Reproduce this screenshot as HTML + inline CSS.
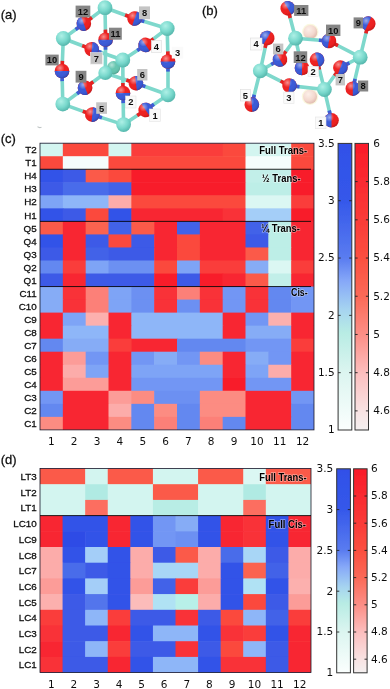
<!DOCTYPE html>
<html lang="en"><head><meta charset="utf-8"><title>Figure</title>
<style>html,body{margin:0;padding:0;background:#fff}body{width:390px;height:689px;overflow:hidden}svg{display:block}
.lab{font-family:"Liberation Sans",sans-serif;font-size:13px;fill:#111;stroke:#111;stroke-width:0.3px}
.row{font-family:"Liberation Sans",sans-serif;font-size:9.8px;fill:#111;text-anchor:end;stroke:#111;stroke-width:0.3px}
.tick{font-family:"DejaVu Sans","Liberation Sans",sans-serif;font-size:10.5px;fill:#111}
.ann{font-family:"Liberation Sans",sans-serif;font-size:10.8px;font-weight:bold;fill:#000;stroke:#fff;stroke-opacity:0.45;stroke-width:1.4px;paint-order:stroke}
.num{font-family:"Liberation Sans",sans-serif;font-size:9.4px;font-weight:bold;fill:#111;text-anchor:middle}
</style></head><body>
<svg width="390" height="689" viewBox="0 0 390 689">
<defs>
<radialGradient id="gt" cx="0.38" cy="0.32" r="0.75"><stop offset="0" stop-color="#aef0e6"/><stop offset="0.55" stop-color="#78d8cc"/><stop offset="1" stop-color="#4fb0a6"/></radialGradient>
<radialGradient id="gp" cx="0.38" cy="0.32" r="0.75"><stop offset="0" stop-color="#fcefe9"/><stop offset="0.6" stop-color="#f3d8ce"/><stop offset="1" stop-color="#dcb6aa"/></radialGradient>
<radialGradient id="gs" cx="0.36" cy="0.30" r="0.8"><stop offset="0" stop-color="#fff" stop-opacity="0.5"/><stop offset="0.4" stop-color="#fff" stop-opacity="0"/><stop offset="0.75" stop-color="#000" stop-opacity="0.04"/><stop offset="1" stop-color="#001" stop-opacity="0.3"/></radialGradient>
<linearGradient id="cb1" x1="0" y1="0" x2="0" y2="1">
<stop offset="0" stop-color="#3050e8"/>
<stop offset="0.2" stop-color="#3558ea"/>
<stop offset="0.4" stop-color="#5a7cf0"/>
<stop offset="0.48" stop-color="#86a8f8"/>
<stop offset="0.58" stop-color="#a6d4f0"/>
<stop offset="0.66" stop-color="#b8ece4"/>
<stop offset="0.8" stop-color="#dcf5f0"/>
<stop offset="1" stop-color="#fbfffe"/>
</linearGradient>
<linearGradient id="cb2" x1="0" y1="0" x2="0" y2="1">
<stop offset="0" stop-color="#fa1c2a"/>
<stop offset="0.134" stop-color="#fa2a30"/>
<stop offset="0.269" stop-color="#fa3c38"/>
<stop offset="0.403" stop-color="#fb5040"/>
<stop offset="0.537" stop-color="#fb6a58"/>
<stop offset="0.672" stop-color="#fc9088"/>
<stop offset="0.806" stop-color="#fcc0c0"/>
<stop offset="0.94" stop-color="#f8e4e4"/>
<stop offset="1" stop-color="#f4f0f0"/>
</linearGradient>
<filter id="soft" x="0" y="0" width="100%" height="100%" filterUnits="userSpaceOnUse"><feGaussianBlur stdDeviation="0.38"/></filter>
</defs>
<rect width="390" height="689" fill="#fff"/>
<g filter="url(#soft)">
<line x1="105.0" y1="7.7" x2="105.6" y2="39.7" stroke="#7ed8cc" stroke-width="3.6" stroke-linecap="round"/>
<line x1="105.6" y1="39.7" x2="105.4" y2="29.6" stroke="#e62020" stroke-width="3.6"/>
<line x1="105.3" y1="73.0" x2="105.6" y2="39.7" stroke="#7ed8cc" stroke-width="3.6" stroke-linecap="round"/>
<line x1="105.6" y1="39.7" x2="105.5" y2="49.8" stroke="#3c5cd6" stroke-width="3.6"/>
<line x1="62.8" y1="104.1" x2="85.1" y2="87.7" stroke="#7ed8cc" stroke-width="3.6" stroke-linecap="round"/>
<line x1="85.1" y1="87.7" x2="77.0" y2="93.7" stroke="#3c5cd6" stroke-width="3.6"/>
<line x1="105.3" y1="73.0" x2="85.1" y2="87.7" stroke="#7ed8cc" stroke-width="3.6" stroke-linecap="round"/>
<line x1="85.1" y1="87.7" x2="93.3" y2="81.8" stroke="#e62020" stroke-width="3.6"/>
<line x1="168.0" y1="94.8" x2="135.9" y2="83.2" stroke="#7ed8cc" stroke-width="3.6" stroke-linecap="round"/>
<line x1="135.9" y1="83.2" x2="145.4" y2="86.6" stroke="#3c5cd6" stroke-width="3.6"/>
<line x1="105.3" y1="73.0" x2="135.9" y2="83.2" stroke="#7ed8cc" stroke-width="3.6" stroke-linecap="round"/>
<line x1="135.9" y1="83.2" x2="126.3" y2="80.0" stroke="#e62020" stroke-width="3.6"/>
<circle cx="113.6" cy="67.6" r="6.6" fill="#66c6b0"/>
<circle cx="113.6" cy="67.6" r="6.6" fill="url(#gs)"/>
<circle cx="105.3" cy="73.0" r="7.0" fill="url(#gt)"/>
<g transform="translate(105.6 39.7) rotate(-90)">
<circle r="7.3" fill="#ee2020"/>
<path d="M0 -7.3 A7.3 7.3 0 0 0 0 7.3 Z" fill="#3a5ad8"/>
</g>
<circle cx="105.6" cy="39.7" r="7.3" fill="url(#gs)"/>
<g transform="translate(85.1 87.7) rotate(-22)">
<circle r="7.3" fill="#ee2020"/>
<path d="M0 -7.3 A7.3 7.3 0 0 0 0 7.3 Z" fill="#3a5ad8"/>
</g>
<circle cx="85.1" cy="87.7" r="7.3" fill="url(#gs)"/>
<g transform="translate(135.9 83.2) rotate(172)">
<circle r="7.3" fill="#ee2020"/>
<path d="M0 -7.3 A7.3 7.3 0 0 0 0 7.3 Z" fill="#3a5ad8"/>
</g>
<circle cx="135.9" cy="83.2" r="7.3" fill="url(#gs)"/>
<line x1="105.0" y1="7.7" x2="83.8" y2="23.6" stroke="#7ed8cc" stroke-width="3.6" stroke-linecap="round"/>
<line x1="83.8" y1="23.6" x2="91.9" y2="17.5" stroke="#e62020" stroke-width="3.6"/>
<line x1="63.3" y1="38.5" x2="83.8" y2="23.6" stroke="#7ed8cc" stroke-width="3.6" stroke-linecap="round"/>
<line x1="83.8" y1="23.6" x2="75.6" y2="29.5" stroke="#3c5cd6" stroke-width="3.6"/>
<line x1="105.0" y1="7.7" x2="134.6" y2="18.5" stroke="#7ed8cc" stroke-width="3.6" stroke-linecap="round"/>
<line x1="134.6" y1="18.5" x2="125.1" y2="15.0" stroke="#e62020" stroke-width="3.6"/>
<line x1="167.2" y1="28.5" x2="134.6" y2="18.5" stroke="#7ed8cc" stroke-width="3.6" stroke-linecap="round"/>
<line x1="134.6" y1="18.5" x2="144.3" y2="21.5" stroke="#3c5cd6" stroke-width="3.6"/>
<line x1="63.3" y1="38.5" x2="91.7" y2="49.2" stroke="#7ed8cc" stroke-width="3.6" stroke-linecap="round"/>
<line x1="91.7" y1="49.2" x2="82.2" y2="45.6" stroke="#e62020" stroke-width="3.6"/>
<line x1="122.8" y1="60.0" x2="91.7" y2="49.2" stroke="#7ed8cc" stroke-width="3.6" stroke-linecap="round"/>
<line x1="91.7" y1="49.2" x2="101.2" y2="52.5" stroke="#3c5cd6" stroke-width="3.6"/>
<line x1="63.3" y1="38.5" x2="62.0" y2="71.0" stroke="#7ed8cc" stroke-width="3.6" stroke-linecap="round"/>
<line x1="62.0" y1="71.0" x2="62.4" y2="60.9" stroke="#e62020" stroke-width="3.6"/>
<line x1="62.8" y1="104.1" x2="62.0" y2="71.0" stroke="#7ed8cc" stroke-width="3.6" stroke-linecap="round"/>
<line x1="62.0" y1="71.0" x2="62.2" y2="81.1" stroke="#3c5cd6" stroke-width="3.6"/>
<line x1="167.2" y1="28.5" x2="145.6" y2="44.9" stroke="#7ed8cc" stroke-width="3.6" stroke-linecap="round"/>
<line x1="145.6" y1="44.9" x2="153.6" y2="38.8" stroke="#e62020" stroke-width="3.6"/>
<line x1="122.8" y1="60.0" x2="145.6" y2="44.9" stroke="#7ed8cc" stroke-width="3.6" stroke-linecap="round"/>
<line x1="145.6" y1="44.9" x2="137.2" y2="50.5" stroke="#3c5cd6" stroke-width="3.6"/>
<line x1="167.2" y1="28.5" x2="168.0" y2="61.5" stroke="#7ed8cc" stroke-width="3.6" stroke-linecap="round"/>
<line x1="168.0" y1="61.5" x2="167.8" y2="51.4" stroke="#e62020" stroke-width="3.6"/>
<line x1="168.0" y1="94.8" x2="168.0" y2="61.5" stroke="#7ed8cc" stroke-width="3.6" stroke-linecap="round"/>
<line x1="168.0" y1="61.5" x2="168.0" y2="71.6" stroke="#3c5cd6" stroke-width="3.6"/>
<line x1="122.8" y1="60.0" x2="123.0" y2="93.0" stroke="#7ed8cc" stroke-width="3.6" stroke-linecap="round"/>
<line x1="123.0" y1="93.0" x2="122.9" y2="82.9" stroke="#e62020" stroke-width="3.6"/>
<line x1="123.6" y1="124.6" x2="123.0" y2="93.0" stroke="#7ed8cc" stroke-width="3.6" stroke-linecap="round"/>
<line x1="123.0" y1="93.0" x2="123.2" y2="103.1" stroke="#3c5cd6" stroke-width="3.6"/>
<line x1="62.8" y1="104.1" x2="92.3" y2="114.6" stroke="#7ed8cc" stroke-width="3.6" stroke-linecap="round"/>
<line x1="92.3" y1="114.6" x2="82.8" y2="111.2" stroke="#e62020" stroke-width="3.6"/>
<line x1="123.6" y1="124.6" x2="92.3" y2="114.6" stroke="#7ed8cc" stroke-width="3.6" stroke-linecap="round"/>
<line x1="92.3" y1="114.6" x2="101.9" y2="117.7" stroke="#3c5cd6" stroke-width="3.6"/>
<line x1="168.0" y1="94.8" x2="145.6" y2="110.0" stroke="#7ed8cc" stroke-width="3.6" stroke-linecap="round"/>
<line x1="145.6" y1="110.0" x2="154.0" y2="104.3" stroke="#3c5cd6" stroke-width="3.6"/>
<line x1="123.6" y1="124.6" x2="145.6" y2="110.0" stroke="#7ed8cc" stroke-width="3.6" stroke-linecap="round"/>
<line x1="145.6" y1="110.0" x2="137.2" y2="115.6" stroke="#e62020" stroke-width="3.6"/>
<circle cx="105.0" cy="7.7" r="7.4" fill="url(#gt)"/>
<circle cx="63.3" cy="38.5" r="7.4" fill="url(#gt)"/>
<circle cx="167.2" cy="28.5" r="7.4" fill="url(#gt)"/>
<circle cx="122.8" cy="60.0" r="7.4" fill="url(#gt)"/>
<circle cx="62.8" cy="104.1" r="7.4" fill="url(#gt)"/>
<circle cx="168.0" cy="94.8" r="7.4" fill="url(#gt)"/>
<circle cx="123.6" cy="124.6" r="7.4" fill="url(#gt)"/>
<g transform="translate(83.8 23.6) rotate(-20)">
<circle r="7.3" fill="#ee2020"/>
<path d="M0 -7.3 A7.3 7.3 0 0 0 0 7.3 Z" fill="#3a5ad8"/>
</g>
<circle cx="83.8" cy="23.6" r="7.3" fill="url(#gs)"/>
<g transform="translate(91.7 49.2) rotate(186)">
<circle r="7.3" fill="#ee2020"/>
<path d="M0 -7.3 A7.3 7.3 0 0 0 0 7.3 Z" fill="#3a5ad8"/>
</g>
<circle cx="91.7" cy="49.2" r="7.3" fill="url(#gs)"/>
<g transform="translate(62.0 71.0) rotate(-90)">
<circle r="7.3" fill="#ee2020"/>
<path d="M0 -7.3 A7.3 7.3 0 0 0 0 7.3 Z" fill="#3a5ad8"/>
</g>
<circle cx="62.0" cy="71.0" r="7.3" fill="url(#gs)"/>
<g transform="translate(134.6 18.5) rotate(199)">
<circle r="7.3" fill="#ee2020"/>
<path d="M0 -7.3 A7.3 7.3 0 0 0 0 7.3 Z" fill="#3a5ad8"/>
</g>
<circle cx="134.6" cy="18.5" r="7.3" fill="url(#gs)"/>
<g transform="translate(145.6 44.9) rotate(-35)">
<circle r="7.3" fill="#ee2020"/>
<path d="M0 -7.3 A7.3 7.3 0 0 0 0 7.3 Z" fill="#3a5ad8"/>
</g>
<circle cx="145.6" cy="44.9" r="7.3" fill="url(#gs)"/>
<g transform="translate(168.0 61.5) rotate(-90)">
<circle r="7.3" fill="#ee2020"/>
<path d="M0 -7.3 A7.3 7.3 0 0 0 0 7.3 Z" fill="#3a5ad8"/>
</g>
<circle cx="168.0" cy="61.5" r="7.3" fill="url(#gs)"/>
<g transform="translate(92.3 114.6) rotate(186)">
<circle r="7.3" fill="#ee2020"/>
<path d="M0 -7.3 A7.3 7.3 0 0 0 0 7.3 Z" fill="#3a5ad8"/>
</g>
<circle cx="92.3" cy="114.6" r="7.3" fill="url(#gs)"/>
<g transform="translate(123.0 93.0) rotate(-90)">
<circle r="7.3" fill="#ee2020"/>
<path d="M0 -7.3 A7.3 7.3 0 0 0 0 7.3 Z" fill="#3a5ad8"/>
</g>
<circle cx="123.0" cy="93.0" r="7.3" fill="url(#gs)"/>
<g transform="translate(145.6 110.0) rotate(146)">
<circle r="7.3" fill="#ee2020"/>
<path d="M0 -7.3 A7.3 7.3 0 0 0 0 7.3 Z" fill="#3a5ad8"/>
</g>
<circle cx="145.6" cy="110.0" r="7.3" fill="url(#gs)"/>
<rect x="75.6" y="5.6" width="14.7" height="11.8" fill="#858585"/>
<text class="num" x="82.9" y="14.9" fill="#111">12</text>
<rect x="109.0" y="27.7" width="12.8" height="12.0" fill="#858585"/>
<text class="num" x="115.4" y="37.1" fill="#111">11</text>
<rect x="90.3" y="52.6" width="12.0" height="11.5" fill="#c4c4c4" stroke="#eee" stroke-width="0.6"/>
<text class="num" x="96.3" y="61.7" fill="#111">7</text>
<rect x="45.4" y="54.6" width="13.3" height="10.8" fill="#858585"/>
<text class="num" x="52.0" y="63.4" fill="#111">10</text>
<rect x="139.0" y="6.4" width="11.0" height="12.8" fill="#c4c4c4"/>
<text class="num" x="144.5" y="16.2" fill="#111">8</text>
<rect x="151.3" y="40.5" width="10.2" height="12.1" fill="#fafafa" stroke="#ddd" stroke-width="0.6"/>
<text class="num" x="156.4" y="49.9" fill="#111">4</text>
<rect x="171.8" y="46.7" width="11.5" height="11.8" fill="#fafafa"/>
<text class="num" x="177.6" y="56.0" fill="#111">3</text>
<rect x="75.6" y="70.8" width="10.8" height="11.8" fill="#858585"/>
<text class="num" x="81.0" y="80.1" fill="#111">9</text>
<rect x="96.2" y="102.3" width="10.8" height="11.5" fill="#c4c4c4"/>
<text class="num" x="101.6" y="111.5" fill="#111">5</text>
<rect x="137.2" y="69.0" width="10.2" height="11.5" fill="#c4c4c4"/>
<text class="num" x="142.3" y="78.2" fill="#111">6</text>
<rect x="125.6" y="96.0" width="10.4" height="12.0" fill="#fafafa" stroke="#e4e4e4" stroke-width="0.6"/>
<text class="num" x="130.8" y="105.4" fill="#111">2</text>
<rect x="149.5" y="109.0" width="11.0" height="12.5" fill="#fafafa" stroke="#e4e4e4" stroke-width="0.6"/>
<text class="num" x="155.0" y="118.7" fill="#111">1</text>
<path d="M37.5 126.6 q1.6 1.6 4 0.6" stroke="#c0c6c6" stroke-width="1.1" fill="none"/>
<circle cx="310.3" cy="32.0" r="8.2" fill="#f6f3c8" opacity="0.6"/>
<circle cx="310.3" cy="32.0" r="7.0" fill="url(#gp)"/>
<circle cx="310.0" cy="96.8" r="8.2" fill="#f6f3c8" opacity="0.6"/>
<circle cx="310.0" cy="96.8" r="7.0" fill="url(#gp)"/>
<line x1="295.5" y1="38.2" x2="287.7" y2="8.2" stroke="#7ed8cc" stroke-width="3.6" stroke-linecap="round"/>
<line x1="287.7" y1="8.2" x2="290.2" y2="18.0" stroke="#e62020" stroke-width="3.6"/>
<line x1="295.5" y1="38.2" x2="280.0" y2="59.5" stroke="#7ed8cc" stroke-width="3.6" stroke-linecap="round"/>
<line x1="280.0" y1="59.5" x2="285.9" y2="51.3" stroke="#e62020" stroke-width="3.6"/>
<line x1="260.3" y1="70.8" x2="280.0" y2="59.5" stroke="#7ed8cc" stroke-width="3.6" stroke-linecap="round"/>
<line x1="280.0" y1="59.5" x2="271.2" y2="64.5" stroke="#3c5cd6" stroke-width="3.6"/>
<line x1="295.5" y1="38.2" x2="329.0" y2="41.0" stroke="#7ed8cc" stroke-width="3.6" stroke-linecap="round"/>
<line x1="329.0" y1="41.0" x2="318.9" y2="40.2" stroke="#3c5cd6" stroke-width="3.6"/>
<line x1="360.2" y1="57.2" x2="329.0" y2="41.0" stroke="#7ed8cc" stroke-width="3.6" stroke-linecap="round"/>
<line x1="329.0" y1="41.0" x2="338.0" y2="45.7" stroke="#e62020" stroke-width="3.6"/>
<line x1="295.5" y1="38.2" x2="302.0" y2="68.0" stroke="#7ed8cc" stroke-width="3.6" stroke-linecap="round"/>
<line x1="302.0" y1="68.0" x2="299.8" y2="58.1" stroke="#3c5cd6" stroke-width="3.6"/>
<line x1="260.3" y1="70.8" x2="267.2" y2="38.0" stroke="#7ed8cc" stroke-width="3.6" stroke-linecap="round"/>
<line x1="267.2" y1="38.0" x2="265.1" y2="47.9" stroke="#e62020" stroke-width="3.6"/>
<line x1="260.3" y1="70.8" x2="251.8" y2="104.6" stroke="#7ed8cc" stroke-width="3.6" stroke-linecap="round"/>
<line x1="251.8" y1="104.6" x2="254.3" y2="94.8" stroke="#3c5cd6" stroke-width="3.6"/>
<line x1="260.3" y1="70.8" x2="289.5" y2="85.6" stroke="#7ed8cc" stroke-width="3.6" stroke-linecap="round"/>
<line x1="289.5" y1="85.6" x2="280.5" y2="81.0" stroke="#e62020" stroke-width="3.6"/>
<line x1="324.4" y1="89.5" x2="289.5" y2="85.6" stroke="#7ed8cc" stroke-width="3.6" stroke-linecap="round"/>
<line x1="289.5" y1="85.6" x2="299.5" y2="86.7" stroke="#3c5cd6" stroke-width="3.6"/>
<line x1="324.4" y1="89.5" x2="317.0" y2="59.8" stroke="#7ed8cc" stroke-width="3.6" stroke-linecap="round"/>
<line x1="317.0" y1="59.8" x2="319.4" y2="69.6" stroke="#e62020" stroke-width="3.6"/>
<line x1="324.4" y1="89.5" x2="340.4" y2="67.5" stroke="#7ed8cc" stroke-width="3.6" stroke-linecap="round"/>
<line x1="340.4" y1="67.5" x2="334.5" y2="75.7" stroke="#e62020" stroke-width="3.6"/>
<line x1="360.2" y1="57.2" x2="340.4" y2="67.5" stroke="#7ed8cc" stroke-width="3.6" stroke-linecap="round"/>
<line x1="340.4" y1="67.5" x2="349.4" y2="62.8" stroke="#3c5cd6" stroke-width="3.6"/>
<line x1="324.4" y1="89.5" x2="331.5" y2="120.3" stroke="#7ed8cc" stroke-width="3.6" stroke-linecap="round"/>
<line x1="331.5" y1="120.3" x2="329.2" y2="110.5" stroke="#3c5cd6" stroke-width="3.6"/>
<line x1="360.2" y1="57.2" x2="368.2" y2="23.6" stroke="#7ed8cc" stroke-width="3.6" stroke-linecap="round"/>
<line x1="368.2" y1="23.6" x2="365.9" y2="33.4" stroke="#e62020" stroke-width="3.6"/>
<line x1="360.2" y1="57.2" x2="352.8" y2="88.7" stroke="#7ed8cc" stroke-width="3.6" stroke-linecap="round"/>
<line x1="352.8" y1="88.7" x2="355.1" y2="78.9" stroke="#3c5cd6" stroke-width="3.6"/>
<circle cx="295.5" cy="38.2" r="7.4" fill="url(#gt)"/>
<circle cx="260.3" cy="70.8" r="7.4" fill="url(#gt)"/>
<circle cx="360.2" cy="57.2" r="7.4" fill="url(#gt)"/>
<circle cx="324.4" cy="89.5" r="7.4" fill="url(#gt)"/>
<g transform="translate(287.7 8.2) rotate(150)">
<circle r="7.3" fill="#ee2020"/>
<path d="M0 -7.3 A7.3 7.3 0 0 0 0 7.3 Z" fill="#3a5ad8"/>
</g>
<circle cx="287.7" cy="8.2" r="7.3" fill="url(#gs)"/>
<g transform="translate(267.2 38.0) rotate(30)">
<circle r="7.3" fill="#ee2020"/>
<path d="M0 -7.3 A7.3 7.3 0 0 0 0 7.3 Z" fill="#3a5ad8"/>
</g>
<circle cx="267.2" cy="38.0" r="7.3" fill="url(#gs)"/>
<g transform="translate(280.0 59.5) rotate(-30)">
<circle r="7.3" fill="#ee2020"/>
<path d="M0 -7.3 A7.3 7.3 0 0 0 0 7.3 Z" fill="#3a5ad8"/>
</g>
<circle cx="280.0" cy="59.5" r="7.3" fill="url(#gs)"/>
<g transform="translate(302.0 68.0) rotate(0)">
<circle r="7.3" fill="#ee2020"/>
<path d="M0 -7.3 A7.3 7.3 0 0 0 0 7.3 Z" fill="#3a5ad8"/>
</g>
<circle cx="302.0" cy="68.0" r="7.3" fill="url(#gs)"/>
<g transform="translate(317.0 59.8) rotate(165)">
<circle r="7.3" fill="#ee2020"/>
<path d="M0 -7.3 A7.3 7.3 0 0 0 0 7.3 Z" fill="#3a5ad8"/>
</g>
<circle cx="317.0" cy="59.8" r="7.3" fill="url(#gs)"/>
<g transform="translate(329.0 41.0) rotate(10)">
<circle r="7.3" fill="#ee2020"/>
<path d="M0 -7.3 A7.3 7.3 0 0 0 0 7.3 Z" fill="#3a5ad8"/>
</g>
<circle cx="329.0" cy="41.0" r="7.3" fill="url(#gs)"/>
<g transform="translate(368.2 23.6) rotate(25)">
<circle r="7.3" fill="#ee2020"/>
<path d="M0 -7.3 A7.3 7.3 0 0 0 0 7.3 Z" fill="#3a5ad8"/>
</g>
<circle cx="368.2" cy="23.6" r="7.3" fill="url(#gs)"/>
<g transform="translate(340.4 67.5) rotate(200)">
<circle r="7.3" fill="#ee2020"/>
<path d="M0 -7.3 A7.3 7.3 0 0 0 0 7.3 Z" fill="#3a5ad8"/>
</g>
<circle cx="340.4" cy="67.5" r="7.3" fill="url(#gs)"/>
<g transform="translate(352.8 88.7) rotate(180)">
<circle r="7.3" fill="#ee2020"/>
<path d="M0 -7.3 A7.3 7.3 0 0 0 0 7.3 Z" fill="#3a5ad8"/>
</g>
<circle cx="352.8" cy="88.7" r="7.3" fill="url(#gs)"/>
<g transform="translate(289.5 85.6) rotate(190)">
<circle r="7.3" fill="#ee2020"/>
<path d="M0 -7.3 A7.3 7.3 0 0 0 0 7.3 Z" fill="#3a5ad8"/>
</g>
<circle cx="289.5" cy="85.6" r="7.3" fill="url(#gs)"/>
<g transform="translate(251.8 104.6) rotate(175)">
<circle r="7.3" fill="#ee2020"/>
<path d="M0 -7.3 A7.3 7.3 0 0 0 0 7.3 Z" fill="#3a5ad8"/>
</g>
<circle cx="251.8" cy="104.6" r="7.3" fill="url(#gs)"/>
<g transform="translate(331.5 120.3) rotate(0)">
<circle r="7.3" fill="#ee2020"/>
<path d="M0 -7.3 A7.3 7.3 0 0 0 0 7.3 Z" fill="#3a5ad8"/>
</g>
<circle cx="331.5" cy="120.3" r="7.3" fill="url(#gs)"/>
<rect x="294.1" y="5.0" width="14.3" height="10.9" fill="#858585"/>
<text class="num" x="301.2" y="13.8" fill="#111">11</text>
<rect x="250.5" y="38.0" width="11.5" height="12.0" fill="#fafafa" stroke="#ddd" stroke-width="0.6"/>
<text class="num" x="256.2" y="47.4" fill="#111">4</text>
<rect x="273.0" y="43.6" width="10.3" height="10.8" fill="#c4c4c4"/>
<text class="num" x="278.1" y="52.4" fill="#111">6</text>
<rect x="293.7" y="51.3" width="13.5" height="11.7" fill="#858585"/>
<text class="num" x="300.4" y="60.5" fill="#111">12</text>
<rect x="308.0" y="66.4" width="10.5" height="10.1" fill="#fafafa" stroke="#e8e8e8" stroke-width="0.6"/>
<text class="num" x="313.2" y="74.9" fill="#111">2</text>
<rect x="326.0" y="24.6" width="14.4" height="11.4" fill="#858585"/>
<text class="num" x="333.2" y="33.7" fill="#111">10</text>
<rect x="353.6" y="17.4" width="9.4" height="11.0" fill="#858585"/>
<text class="num" x="358.3" y="26.3" fill="#111">9</text>
<rect x="335.6" y="74.0" width="9.4" height="11.4" fill="#c4c4c4"/>
<text class="num" x="340.3" y="83.1" fill="#111">7</text>
<rect x="358.0" y="80.5" width="10.2" height="11.0" fill="#858585"/>
<text class="num" x="363.1" y="89.4" fill="#111">8</text>
<rect x="283.8" y="92.0" width="10.2" height="11.6" fill="#fafafa" stroke="#e4e4e4" stroke-width="0.6"/>
<text class="num" x="288.9" y="101.2" fill="#111">3</text>
<rect x="240.3" y="89.5" width="10.2" height="11.5" fill="#fafafa" stroke="#ddd" stroke-width="0.6"/>
<text class="num" x="245.4" y="98.7" fill="#111">5</text>
<rect x="315.6" y="117.0" width="10.4" height="11.7" fill="#fafafa" stroke="#e4e4e4" stroke-width="0.6"/>
<text class="num" x="320.8" y="126.2" fill="#111">1</text>
<text class="lab" x="0.7" y="18.8">(a)</text>
<text class="lab" x="202" y="14.6">(b)</text>
<text class="lab" x="0.7" y="143.3">(c)</text>
<text class="lab" x="0.7" y="464.4">(d)</text>
<g>
<rect x="40.00" y="143.20" width="23.43" height="13.63" fill="#d3f5f0"/>
<rect x="62.83" y="143.20" width="46.27" height="13.63" fill="#fb4a3e"/>
<rect x="108.50" y="143.20" width="23.43" height="13.63" fill="#d3f5f0"/>
<rect x="131.33" y="143.20" width="91.93" height="13.63" fill="#fa3c3a"/>
<rect x="222.67" y="143.20" width="23.43" height="13.63" fill="#fb4a3e"/>
<rect x="245.50" y="143.20" width="46.27" height="13.63" fill="#d3f5f0"/>
<rect x="291.17" y="143.20" width="22.83" height="13.63" fill="#fb4a3e"/>
<rect x="40.00" y="156.23" width="23.43" height="13.63" fill="#fb4a3e"/>
<rect x="62.83" y="156.23" width="46.27" height="13.63" fill="#f5fdfc"/>
<rect x="108.50" y="156.23" width="137.60" height="13.63" fill="#fb4a3e"/>
<rect x="245.50" y="156.23" width="46.27" height="13.63" fill="#f5fdfc"/>
<rect x="291.17" y="156.23" width="22.83" height="13.63" fill="#fb4a3e"/>
<rect x="40.00" y="169.26" width="23.43" height="13.63" fill="#3352e8"/>
<rect x="62.83" y="169.26" width="23.43" height="13.63" fill="#3c5ae7"/>
<rect x="85.67" y="169.26" width="23.43" height="13.63" fill="#fb5a48"/>
<rect x="108.50" y="169.26" width="23.43" height="13.63" fill="#fb4a3e"/>
<rect x="131.33" y="169.26" width="114.77" height="13.63" fill="#f81e2c"/>
<rect x="245.50" y="169.26" width="46.27" height="13.63" fill="#c2efe9"/>
<rect x="291.17" y="169.26" width="22.83" height="13.63" fill="#f81e2c"/>
<rect x="40.00" y="182.30" width="23.43" height="13.63" fill="#3c5ae7"/>
<rect x="62.83" y="182.30" width="46.27" height="13.63" fill="#4a6cea"/>
<rect x="108.50" y="182.30" width="23.43" height="13.63" fill="#4262e8"/>
<rect x="131.33" y="182.30" width="114.77" height="13.63" fill="#f81e2c"/>
<rect x="245.50" y="182.30" width="46.27" height="13.63" fill="#bdeee7"/>
<rect x="291.17" y="182.30" width="22.83" height="13.63" fill="#f81e2c"/>
<rect x="40.00" y="195.33" width="23.43" height="13.63" fill="#7ea4f6"/>
<rect x="62.83" y="195.33" width="46.27" height="13.63" fill="#8eb6f8"/>
<rect x="108.50" y="195.33" width="23.43" height="13.63" fill="#fcacaa"/>
<rect x="131.33" y="195.33" width="114.77" height="13.63" fill="#fb4a3e"/>
<rect x="245.50" y="195.33" width="46.27" height="13.63" fill="#dbf7f3"/>
<rect x="291.17" y="195.33" width="22.83" height="13.63" fill="#fa3c3a"/>
<rect x="40.00" y="208.36" width="23.43" height="13.63" fill="#3352e8"/>
<rect x="62.83" y="208.36" width="23.43" height="13.63" fill="#3c5ae7"/>
<rect x="85.67" y="208.36" width="23.43" height="13.63" fill="#fb4a3e"/>
<rect x="108.50" y="208.36" width="23.43" height="13.63" fill="#3352e8"/>
<rect x="131.33" y="208.36" width="91.93" height="13.63" fill="#f82832"/>
<rect x="222.67" y="208.36" width="23.43" height="13.63" fill="#f93038"/>
<rect x="245.50" y="208.36" width="46.27" height="13.63" fill="#a4cef8"/>
<rect x="291.17" y="208.36" width="22.83" height="13.63" fill="#f81e2c"/>
<rect x="40.00" y="221.39" width="23.43" height="13.63" fill="#fb5a48"/>
<rect x="62.83" y="221.39" width="23.43" height="13.63" fill="#f82832"/>
<rect x="85.67" y="221.39" width="23.43" height="13.63" fill="#fb6450"/>
<rect x="108.50" y="221.39" width="23.43" height="13.63" fill="#4262e8"/>
<rect x="131.33" y="221.39" width="23.43" height="13.63" fill="#fb5a48"/>
<rect x="154.17" y="221.39" width="23.43" height="13.63" fill="#f82832"/>
<rect x="177.00" y="221.39" width="23.43" height="13.63" fill="#4262e8"/>
<rect x="199.83" y="221.39" width="46.27" height="13.63" fill="#f82832"/>
<rect x="245.50" y="221.39" width="23.43" height="13.63" fill="#4262e8"/>
<rect x="268.33" y="221.39" width="23.43" height="13.63" fill="#bdeee7"/>
<rect x="291.17" y="221.39" width="22.83" height="13.63" fill="#f82832"/>
<rect x="40.00" y="234.42" width="23.43" height="13.63" fill="#3352e8"/>
<rect x="62.83" y="234.42" width="23.43" height="13.63" fill="#f82832"/>
<rect x="85.67" y="234.42" width="23.43" height="13.63" fill="#3c5ae7"/>
<rect x="108.50" y="234.42" width="23.43" height="13.63" fill="#fb4a3e"/>
<rect x="131.33" y="234.42" width="23.43" height="13.63" fill="#3c5ae7"/>
<rect x="154.17" y="234.42" width="23.43" height="13.63" fill="#f82832"/>
<rect x="177.00" y="234.42" width="23.43" height="13.63" fill="#fb4a3e"/>
<rect x="199.83" y="234.42" width="46.27" height="13.63" fill="#f82832"/>
<rect x="245.50" y="234.42" width="23.43" height="13.63" fill="#3c5ae7"/>
<rect x="268.33" y="234.42" width="23.43" height="13.63" fill="#bdeee7"/>
<rect x="291.17" y="234.42" width="22.83" height="13.63" fill="#f82832"/>
<rect x="40.00" y="247.45" width="23.43" height="13.63" fill="#3c5ae7"/>
<rect x="62.83" y="247.45" width="23.43" height="13.63" fill="#f82832"/>
<rect x="85.67" y="247.45" width="23.43" height="13.63" fill="#4262e8"/>
<rect x="108.50" y="247.45" width="46.27" height="13.63" fill="#3c5ae7"/>
<rect x="154.17" y="247.45" width="23.43" height="13.63" fill="#f82832"/>
<rect x="177.00" y="247.45" width="23.43" height="13.63" fill="#fb4a3e"/>
<rect x="199.83" y="247.45" width="46.27" height="13.63" fill="#f82832"/>
<rect x="245.50" y="247.45" width="23.43" height="13.63" fill="#fb5a48"/>
<rect x="268.33" y="247.45" width="23.43" height="13.63" fill="#bdeee7"/>
<rect x="291.17" y="247.45" width="22.83" height="13.63" fill="#f82832"/>
<rect x="40.00" y="260.49" width="23.43" height="13.63" fill="#6488f0"/>
<rect x="62.83" y="260.49" width="23.43" height="13.63" fill="#fa3c3a"/>
<rect x="85.67" y="260.49" width="23.43" height="13.63" fill="#7ea4f6"/>
<rect x="108.50" y="260.49" width="46.27" height="13.63" fill="#6c90f2"/>
<rect x="154.17" y="260.49" width="23.43" height="13.63" fill="#fb4a3e"/>
<rect x="177.00" y="260.49" width="23.43" height="13.63" fill="#7ea4f6"/>
<rect x="199.83" y="260.49" width="46.27" height="13.63" fill="#fa3c3a"/>
<rect x="245.50" y="260.49" width="23.43" height="13.63" fill="#86acf6"/>
<rect x="268.33" y="260.49" width="23.43" height="13.63" fill="#dbf7f3"/>
<rect x="291.17" y="260.49" width="22.83" height="13.63" fill="#fa3c3a"/>
<rect x="40.00" y="273.52" width="23.43" height="13.63" fill="#3c5ae7"/>
<rect x="62.83" y="273.52" width="23.43" height="13.63" fill="#f82832"/>
<rect x="85.67" y="273.52" width="69.10" height="13.63" fill="#3c5ae7"/>
<rect x="154.17" y="273.52" width="23.43" height="13.63" fill="#f81e2c"/>
<rect x="177.00" y="273.52" width="23.43" height="13.63" fill="#3c5ae7"/>
<rect x="199.83" y="273.52" width="23.43" height="13.63" fill="#f81e2c"/>
<rect x="222.67" y="273.52" width="23.43" height="13.63" fill="#f82832"/>
<rect x="245.50" y="273.52" width="23.43" height="13.63" fill="#fb5a48"/>
<rect x="268.33" y="273.52" width="23.43" height="13.63" fill="#c2efe9"/>
<rect x="291.17" y="273.52" width="22.83" height="13.63" fill="#f82832"/>
<rect x="40.00" y="286.55" width="23.43" height="13.63" fill="#86acf6"/>
<rect x="62.83" y="286.55" width="23.43" height="13.63" fill="#f93038"/>
<rect x="85.67" y="286.55" width="23.43" height="13.63" fill="#fc8078"/>
<rect x="108.50" y="286.55" width="23.43" height="13.63" fill="#7ea4f6"/>
<rect x="131.33" y="286.55" width="23.43" height="13.63" fill="#6c90f2"/>
<rect x="154.17" y="286.55" width="23.43" height="13.63" fill="#f93038"/>
<rect x="177.00" y="286.55" width="23.43" height="13.63" fill="#fc8078"/>
<rect x="199.83" y="286.55" width="23.43" height="13.63" fill="#f93038"/>
<rect x="222.67" y="286.55" width="23.43" height="13.63" fill="#7296f4"/>
<rect x="245.50" y="286.55" width="23.43" height="13.63" fill="#f93038"/>
<rect x="268.33" y="286.55" width="23.43" height="13.63" fill="#6488f0"/>
<rect x="291.17" y="286.55" width="22.83" height="13.63" fill="#7296f4"/>
<rect x="40.00" y="299.58" width="23.43" height="13.63" fill="#86acf6"/>
<rect x="62.83" y="299.58" width="23.43" height="13.63" fill="#f93038"/>
<rect x="85.67" y="299.58" width="23.43" height="13.63" fill="#fc8078"/>
<rect x="108.50" y="299.58" width="23.43" height="13.63" fill="#7ea4f6"/>
<rect x="131.33" y="299.58" width="23.43" height="13.63" fill="#6c90f2"/>
<rect x="154.17" y="299.58" width="23.43" height="13.63" fill="#f93038"/>
<rect x="177.00" y="299.58" width="23.43" height="13.63" fill="#6c90f2"/>
<rect x="199.83" y="299.58" width="23.43" height="13.63" fill="#f93038"/>
<rect x="222.67" y="299.58" width="23.43" height="13.63" fill="#7296f4"/>
<rect x="245.50" y="299.58" width="23.43" height="13.63" fill="#f93038"/>
<rect x="268.33" y="299.58" width="23.43" height="13.63" fill="#6488f0"/>
<rect x="291.17" y="299.58" width="22.83" height="13.63" fill="#7296f4"/>
<rect x="40.00" y="312.61" width="23.43" height="13.63" fill="#f82832"/>
<rect x="62.83" y="312.61" width="23.43" height="13.63" fill="#7ea4f6"/>
<rect x="85.67" y="312.61" width="23.43" height="13.63" fill="#fcb0ae"/>
<rect x="108.50" y="312.61" width="23.43" height="13.63" fill="#f82832"/>
<rect x="131.33" y="312.61" width="91.93" height="13.63" fill="#8eb6f8"/>
<rect x="222.67" y="312.61" width="23.43" height="13.63" fill="#f82832"/>
<rect x="245.50" y="312.61" width="23.43" height="13.63" fill="#7296f4"/>
<rect x="268.33" y="312.61" width="23.43" height="13.63" fill="#fcb0ae"/>
<rect x="291.17" y="312.61" width="22.83" height="13.63" fill="#f82832"/>
<rect x="40.00" y="325.65" width="23.43" height="13.63" fill="#f82832"/>
<rect x="62.83" y="325.65" width="46.27" height="13.63" fill="#8eb6f8"/>
<rect x="108.50" y="325.65" width="23.43" height="13.63" fill="#f82832"/>
<rect x="131.33" y="325.65" width="91.93" height="13.63" fill="#8eb6f8"/>
<rect x="222.67" y="325.65" width="23.43" height="13.63" fill="#f82832"/>
<rect x="245.50" y="325.65" width="46.27" height="13.63" fill="#86acf6"/>
<rect x="291.17" y="325.65" width="22.83" height="13.63" fill="#f82832"/>
<rect x="40.00" y="338.68" width="23.43" height="13.63" fill="#6488f0"/>
<rect x="62.83" y="338.68" width="46.27" height="13.63" fill="#86acf6"/>
<rect x="108.50" y="338.68" width="23.43" height="13.63" fill="#fa3c3a"/>
<rect x="131.33" y="338.68" width="46.27" height="13.63" fill="#f82832"/>
<rect x="177.00" y="338.68" width="69.10" height="13.63" fill="#6488f0"/>
<rect x="245.50" y="338.68" width="46.27" height="13.63" fill="#7296f4"/>
<rect x="291.17" y="338.68" width="22.83" height="13.63" fill="#fa3c3a"/>
<rect x="40.00" y="351.71" width="23.43" height="13.63" fill="#f82832"/>
<rect x="62.83" y="351.71" width="23.43" height="13.63" fill="#fc9c98"/>
<rect x="85.67" y="351.71" width="23.43" height="13.63" fill="#7296f4"/>
<rect x="108.50" y="351.71" width="23.43" height="13.63" fill="#f82832"/>
<rect x="131.33" y="351.71" width="23.43" height="13.63" fill="#7296f4"/>
<rect x="154.17" y="351.71" width="23.43" height="13.63" fill="#86acf6"/>
<rect x="177.00" y="351.71" width="23.43" height="13.63" fill="#7296f4"/>
<rect x="199.83" y="351.71" width="23.43" height="13.63" fill="#fc8c82"/>
<rect x="222.67" y="351.71" width="23.43" height="13.63" fill="#f82832"/>
<rect x="245.50" y="351.71" width="23.43" height="13.63" fill="#86acf6"/>
<rect x="268.33" y="351.71" width="23.43" height="13.63" fill="#7296f4"/>
<rect x="291.17" y="351.71" width="22.83" height="13.63" fill="#f82832"/>
<rect x="40.00" y="364.74" width="23.43" height="13.63" fill="#f82832"/>
<rect x="62.83" y="364.74" width="23.43" height="13.63" fill="#fcacaa"/>
<rect x="85.67" y="364.74" width="23.43" height="13.63" fill="#7ea4f6"/>
<rect x="108.50" y="364.74" width="23.43" height="13.63" fill="#f82832"/>
<rect x="131.33" y="364.74" width="91.93" height="13.63" fill="#7ea4f6"/>
<rect x="222.67" y="364.74" width="23.43" height="13.63" fill="#f82832"/>
<rect x="245.50" y="364.74" width="23.43" height="13.63" fill="#7ea4f6"/>
<rect x="268.33" y="364.74" width="23.43" height="13.63" fill="#fcacaa"/>
<rect x="291.17" y="364.74" width="22.83" height="13.63" fill="#f82832"/>
<rect x="40.00" y="377.77" width="23.43" height="13.63" fill="#f82832"/>
<rect x="62.83" y="377.77" width="46.27" height="13.63" fill="#fc9c98"/>
<rect x="108.50" y="377.77" width="23.43" height="13.63" fill="#f82832"/>
<rect x="131.33" y="377.77" width="91.93" height="13.63" fill="#7296f4"/>
<rect x="222.67" y="377.77" width="23.43" height="13.63" fill="#f81e2c"/>
<rect x="245.50" y="377.77" width="46.27" height="13.63" fill="#7296f4"/>
<rect x="291.17" y="377.77" width="22.83" height="13.63" fill="#f82832"/>
<rect x="40.00" y="390.80" width="23.43" height="13.63" fill="#7296f4"/>
<rect x="62.83" y="390.80" width="46.27" height="13.63" fill="#f82832"/>
<rect x="108.50" y="390.80" width="23.43" height="13.63" fill="#fc9c98"/>
<rect x="131.33" y="390.80" width="23.43" height="13.63" fill="#fc8c82"/>
<rect x="154.17" y="390.80" width="46.27" height="13.63" fill="#6c90f2"/>
<rect x="199.83" y="390.80" width="46.27" height="13.63" fill="#fc8c82"/>
<rect x="245.50" y="390.80" width="46.27" height="13.63" fill="#f82832"/>
<rect x="291.17" y="390.80" width="22.83" height="13.63" fill="#7296f4"/>
<rect x="40.00" y="403.84" width="23.43" height="13.63" fill="#6488f0"/>
<rect x="62.83" y="403.84" width="46.27" height="13.63" fill="#f82832"/>
<rect x="108.50" y="403.84" width="23.43" height="13.63" fill="#fcacaa"/>
<rect x="131.33" y="403.84" width="23.43" height="13.63" fill="#6488f0"/>
<rect x="154.17" y="403.84" width="23.43" height="13.63" fill="#fc8c82"/>
<rect x="177.00" y="403.84" width="23.43" height="13.63" fill="#6488f0"/>
<rect x="199.83" y="403.84" width="46.27" height="13.63" fill="#fc8c82"/>
<rect x="245.50" y="403.84" width="46.27" height="13.63" fill="#f82832"/>
<rect x="291.17" y="403.84" width="22.83" height="13.63" fill="#6488f0"/>
<rect x="40.00" y="416.87" width="23.43" height="13.03" fill="#fc8c82"/>
<rect x="62.83" y="416.87" width="46.27" height="13.03" fill="#f82832"/>
<rect x="108.50" y="416.87" width="23.43" height="13.03" fill="#fc8c82"/>
<rect x="131.33" y="416.87" width="23.43" height="13.03" fill="#6488f0"/>
<rect x="154.17" y="416.87" width="23.43" height="13.03" fill="#fc8078"/>
<rect x="177.00" y="416.87" width="23.43" height="13.03" fill="#6488f0"/>
<rect x="199.83" y="416.87" width="23.43" height="13.03" fill="#fc8078"/>
<rect x="222.67" y="416.87" width="23.43" height="13.03" fill="#6488f0"/>
<rect x="245.50" y="416.87" width="46.27" height="13.03" fill="#f82832"/>
<rect x="291.17" y="416.87" width="22.83" height="13.03" fill="#6488f0"/>
</g>
<rect x="40.00" y="143.20" width="274.00" height="286.70" fill="none" stroke="#15152a" stroke-width="0.8"/>
<line x1="40.0" y1="169.26" x2="311.0" y2="169.26" stroke="#000" stroke-width="0.85"/>
<line x1="40.0" y1="221.39" x2="311.0" y2="221.39" stroke="#000" stroke-width="0.85"/>
<line x1="40.0" y1="286.55" x2="311.0" y2="286.55" stroke="#000" stroke-width="0.85"/>
<text class="row" x="36.7" y="153.3">T2</text>
<text class="row" x="36.7" y="166.3">T1</text>
<text class="row" x="36.7" y="179.4">H4</text>
<text class="row" x="36.7" y="192.4">H3</text>
<text class="row" x="36.7" y="205.4">H2</text>
<text class="row" x="36.7" y="218.5">H1</text>
<text class="row" x="36.7" y="231.5">Q5</text>
<text class="row" x="36.7" y="244.5">Q4</text>
<text class="row" x="36.7" y="257.6">Q3</text>
<text class="row" x="36.7" y="270.6">Q2</text>
<text class="row" x="36.7" y="283.6">Q1</text>
<text class="row" x="36.7" y="296.7">C11</text>
<text class="row" x="36.7" y="309.7">C10</text>
<text class="row" x="36.7" y="322.7">C9</text>
<text class="row" x="36.7" y="335.8">C8</text>
<text class="row" x="36.7" y="348.8">C7</text>
<text class="row" x="36.7" y="361.8">C6</text>
<text class="row" x="36.7" y="374.9">C5</text>
<text class="row" x="36.7" y="387.9">C4</text>
<text class="row" x="36.7" y="400.9">C3</text>
<text class="row" x="36.7" y="414.0">C2</text>
<text class="row" x="36.7" y="427.0">C1</text>
<text class="tick" text-anchor="middle" x="51.4" y="445.2">1</text>
<text class="tick" text-anchor="middle" x="74.2" y="445.2">2</text>
<text class="tick" text-anchor="middle" x="97.1" y="445.2">3</text>
<text class="tick" text-anchor="middle" x="119.9" y="445.2">4</text>
<text class="tick" text-anchor="middle" x="142.8" y="445.2">5</text>
<text class="tick" text-anchor="middle" x="165.6" y="445.2">6</text>
<text class="tick" text-anchor="middle" x="188.4" y="445.2">7</text>
<text class="tick" text-anchor="middle" x="211.2" y="445.2">8</text>
<text class="tick" text-anchor="middle" x="234.1" y="445.2">9</text>
<text class="tick" text-anchor="middle" x="256.9" y="445.2">10</text>
<text class="tick" text-anchor="middle" x="279.8" y="445.2">11</text>
<text class="tick" text-anchor="middle" x="302.6" y="445.2">12</text>
<text class="ann" x="259.2" y="154" textLength="48" lengthAdjust="spacingAndGlyphs">Full Trans-</text>
<text class="ann" x="261.8" y="181.6" textLength="38.8" lengthAdjust="spacingAndGlyphs">½ Trans-</text>
<text class="ann" x="261.2" y="231.8" textLength="38.8" lengthAdjust="spacingAndGlyphs">¼ Trans-</text>
<text class="ann" x="291" y="296" textLength="16.7" lengthAdjust="spacingAndGlyphs">Cis-</text>
<rect x="338.1" y="143.40" width="13.7" height="286.60" fill="url(#cb1)" stroke="#333" stroke-width="1"/>
<rect x="355.0" y="143.40" width="13.5" height="286.60" fill="url(#cb2)" stroke="#333" stroke-width="1"/>
<text class="tick" text-anchor="end" x="334.6" y="146.7">3.5</text>
<path d="M338.1 200.72h2.6M351.8 200.72h-2.6" stroke="#222" stroke-width="0.9"/>
<text class="tick" text-anchor="end" x="334.6" y="204.0">3</text>
<path d="M338.1 258.04h2.6M351.8 258.04h-2.6" stroke="#222" stroke-width="0.9"/>
<text class="tick" text-anchor="end" x="334.6" y="261.3">2.5</text>
<path d="M338.1 315.36h2.6M351.8 315.36h-2.6" stroke="#222" stroke-width="0.9"/>
<text class="tick" text-anchor="end" x="334.6" y="318.7">2</text>
<path d="M338.1 372.68h2.6M351.8 372.68h-2.6" stroke="#222" stroke-width="0.9"/>
<text class="tick" text-anchor="end" x="334.6" y="376.0">1.5</text>
<text class="tick" text-anchor="end" x="334.6" y="433.3">1</text>
<text class="tick" x="373.2" y="146.7">6</text>
<path d="M355.0 181.61h2.6M368.5 181.61h-2.6" stroke="#222" stroke-width="0.9"/>
<text class="tick" x="373.2" y="184.9">5.8</text>
<path d="M355.0 219.83h2.6M368.5 219.83h-2.6" stroke="#222" stroke-width="0.9"/>
<text class="tick" x="373.2" y="223.1">5.6</text>
<path d="M355.0 258.04h2.6M368.5 258.04h-2.6" stroke="#222" stroke-width="0.9"/>
<text class="tick" x="373.2" y="261.3">5.4</text>
<path d="M355.0 296.25h2.6M368.5 296.25h-2.6" stroke="#222" stroke-width="0.9"/>
<text class="tick" x="373.2" y="299.6">5.2</text>
<path d="M355.0 334.47h2.6M368.5 334.47h-2.6" stroke="#222" stroke-width="0.9"/>
<text class="tick" x="373.2" y="337.8">5</text>
<path d="M355.0 372.68h2.6M368.5 372.68h-2.6" stroke="#222" stroke-width="0.9"/>
<text class="tick" x="373.2" y="376.0">4.8</text>
<path d="M355.0 410.89h2.6M368.5 410.89h-2.6" stroke="#222" stroke-width="0.9"/>
<text class="tick" x="373.2" y="414.2">4.6</text>
<g>
<rect x="40.00" y="468.50" width="45.77" height="16.30" fill="#fb5a48"/>
<rect x="85.17" y="468.50" width="23.18" height="16.30" fill="#d3f5f0"/>
<rect x="107.75" y="468.50" width="45.77" height="16.30" fill="#fb5a48"/>
<rect x="152.92" y="468.50" width="45.77" height="16.30" fill="#d3f5f0"/>
<rect x="198.08" y="468.50" width="45.77" height="16.30" fill="#fb5a48"/>
<rect x="243.25" y="468.50" width="23.18" height="16.30" fill="#dbf7f3"/>
<rect x="265.83" y="468.50" width="45.17" height="16.30" fill="#fb5a48"/>
<rect x="40.00" y="484.20" width="45.77" height="16.30" fill="#d3f5f0"/>
<rect x="85.17" y="484.20" width="23.18" height="16.30" fill="#b0eae3"/>
<rect x="107.75" y="484.20" width="45.77" height="16.30" fill="#d3f5f0"/>
<rect x="152.92" y="484.20" width="45.77" height="16.30" fill="#fb5a48"/>
<rect x="198.08" y="484.20" width="45.77" height="16.30" fill="#d3f5f0"/>
<rect x="243.25" y="484.20" width="23.18" height="16.30" fill="#b0eae3"/>
<rect x="265.83" y="484.20" width="45.17" height="16.30" fill="#d3f5f0"/>
<rect x="40.00" y="499.90" width="45.77" height="16.30" fill="#d3f5f0"/>
<rect x="85.17" y="499.90" width="23.18" height="16.30" fill="#fc6e60"/>
<rect x="107.75" y="499.90" width="45.77" height="16.30" fill="#d3f5f0"/>
<rect x="152.92" y="499.90" width="45.77" height="16.30" fill="#b8ede5"/>
<rect x="198.08" y="499.90" width="45.77" height="16.30" fill="#d3f5f0"/>
<rect x="243.25" y="499.90" width="23.18" height="16.30" fill="#fc6e60"/>
<rect x="265.83" y="499.90" width="45.17" height="16.30" fill="#d3f5f0"/>
<rect x="40.00" y="515.60" width="23.18" height="16.30" fill="#f82832"/>
<rect x="62.58" y="515.60" width="45.77" height="16.30" fill="#3352e8"/>
<rect x="107.75" y="515.60" width="23.18" height="16.30" fill="#f82832"/>
<rect x="130.33" y="515.60" width="23.18" height="16.30" fill="#3352e8"/>
<rect x="152.92" y="515.60" width="23.18" height="16.30" fill="#7296f4"/>
<rect x="175.50" y="515.60" width="23.18" height="16.30" fill="#86acf6"/>
<rect x="198.08" y="515.60" width="23.18" height="16.30" fill="#3352e8"/>
<rect x="220.67" y="515.60" width="23.18" height="16.30" fill="#f82832"/>
<rect x="243.25" y="515.60" width="23.18" height="16.30" fill="#f93038"/>
<rect x="265.83" y="515.60" width="23.18" height="16.30" fill="#3352e8"/>
<rect x="288.42" y="515.60" width="22.58" height="16.30" fill="#f82832"/>
<rect x="40.00" y="531.30" width="23.18" height="16.30" fill="#f82832"/>
<rect x="62.58" y="531.30" width="23.18" height="16.30" fill="#2f4ce6"/>
<rect x="85.17" y="531.30" width="23.18" height="16.30" fill="#3352e8"/>
<rect x="107.75" y="531.30" width="23.18" height="16.30" fill="#f82832"/>
<rect x="130.33" y="531.30" width="23.18" height="16.30" fill="#3352e8"/>
<rect x="152.92" y="531.30" width="23.18" height="16.30" fill="#7296f4"/>
<rect x="175.50" y="531.30" width="23.18" height="16.30" fill="#6c90f2"/>
<rect x="198.08" y="531.30" width="23.18" height="16.30" fill="#3352e8"/>
<rect x="220.67" y="531.30" width="23.18" height="16.30" fill="#f82832"/>
<rect x="243.25" y="531.30" width="23.18" height="16.30" fill="#f93038"/>
<rect x="265.83" y="531.30" width="23.18" height="16.30" fill="#3352e8"/>
<rect x="288.42" y="531.30" width="22.58" height="16.30" fill="#f82832"/>
<rect x="40.00" y="547.00" width="23.18" height="16.30" fill="#fcacaa"/>
<rect x="62.58" y="547.00" width="23.18" height="16.30" fill="#3352e8"/>
<rect x="85.17" y="547.00" width="23.18" height="16.30" fill="#a4cef8"/>
<rect x="107.75" y="547.00" width="23.18" height="16.30" fill="#3352e8"/>
<rect x="130.33" y="547.00" width="23.18" height="16.30" fill="#fcacaa"/>
<rect x="152.92" y="547.00" width="23.18" height="16.30" fill="#3c5ae7"/>
<rect x="175.50" y="547.00" width="23.18" height="16.30" fill="#fb5a48"/>
<rect x="198.08" y="547.00" width="23.18" height="16.30" fill="#fcacaa"/>
<rect x="220.67" y="547.00" width="23.18" height="16.30" fill="#4a6cea"/>
<rect x="243.25" y="547.00" width="23.18" height="16.30" fill="#a8d6f6"/>
<rect x="265.83" y="547.00" width="23.18" height="16.30" fill="#3c5ae7"/>
<rect x="288.42" y="547.00" width="22.58" height="16.30" fill="#fcacaa"/>
<rect x="40.00" y="562.70" width="23.18" height="16.30" fill="#fcacaa"/>
<rect x="62.58" y="562.70" width="23.18" height="16.30" fill="#4a6cea"/>
<rect x="85.17" y="562.70" width="23.18" height="16.30" fill="#3c5ae7"/>
<rect x="107.75" y="562.70" width="23.18" height="16.30" fill="#3352e8"/>
<rect x="130.33" y="562.70" width="23.18" height="16.30" fill="#fcacaa"/>
<rect x="152.92" y="562.70" width="45.77" height="16.30" fill="#a8d6f6"/>
<rect x="198.08" y="562.70" width="23.18" height="16.30" fill="#fcacaa"/>
<rect x="220.67" y="562.70" width="23.18" height="16.30" fill="#3352e8"/>
<rect x="243.25" y="562.70" width="23.18" height="16.30" fill="#fb6450"/>
<rect x="265.83" y="562.70" width="23.18" height="16.30" fill="#4262e8"/>
<rect x="288.42" y="562.70" width="22.58" height="16.30" fill="#fcacaa"/>
<rect x="40.00" y="578.40" width="23.18" height="16.30" fill="#fc9c98"/>
<rect x="62.58" y="578.40" width="23.18" height="16.30" fill="#3352e8"/>
<rect x="85.17" y="578.40" width="23.18" height="16.30" fill="#a4cef8"/>
<rect x="107.75" y="578.40" width="23.18" height="16.30" fill="#3352e8"/>
<rect x="130.33" y="578.40" width="23.18" height="16.30" fill="#fc9c98"/>
<rect x="152.92" y="578.40" width="23.18" height="16.30" fill="#4262e8"/>
<rect x="175.50" y="578.40" width="23.18" height="16.30" fill="#fa3c3a"/>
<rect x="198.08" y="578.40" width="23.18" height="16.30" fill="#fc9c98"/>
<rect x="220.67" y="578.40" width="23.18" height="16.30" fill="#3352e8"/>
<rect x="243.25" y="578.40" width="23.18" height="16.30" fill="#b0e2f4"/>
<rect x="265.83" y="578.40" width="23.18" height="16.30" fill="#3352e8"/>
<rect x="288.42" y="578.40" width="22.58" height="16.30" fill="#fcb0ae"/>
<rect x="40.00" y="594.10" width="23.18" height="16.30" fill="#fcb0ae"/>
<rect x="62.58" y="594.10" width="23.18" height="16.30" fill="#3c5ae7"/>
<rect x="85.17" y="594.10" width="23.18" height="16.30" fill="#5274ec"/>
<rect x="107.75" y="594.10" width="23.18" height="16.30" fill="#3352e8"/>
<rect x="130.33" y="594.10" width="23.18" height="16.30" fill="#fcbcba"/>
<rect x="152.92" y="594.10" width="23.18" height="16.30" fill="#b0e2f4"/>
<rect x="175.50" y="594.10" width="23.18" height="16.30" fill="#b8f0e8"/>
<rect x="198.08" y="594.10" width="23.18" height="16.30" fill="#fcacaa"/>
<rect x="220.67" y="594.10" width="23.18" height="16.30" fill="#3352e8"/>
<rect x="243.25" y="594.10" width="23.18" height="16.30" fill="#fb4a3e"/>
<rect x="265.83" y="594.10" width="23.18" height="16.30" fill="#3c5ae7"/>
<rect x="288.42" y="594.10" width="22.58" height="16.30" fill="#fc9c98"/>
<rect x="40.00" y="609.80" width="23.18" height="16.30" fill="#fa3c3a"/>
<rect x="62.58" y="609.80" width="23.18" height="16.30" fill="#3c5ae7"/>
<rect x="85.17" y="609.80" width="23.18" height="16.30" fill="#8eb6f8"/>
<rect x="107.75" y="609.80" width="23.18" height="16.30" fill="#fa3c3a"/>
<rect x="130.33" y="609.80" width="45.77" height="16.30" fill="#3c5ae7"/>
<rect x="175.50" y="609.80" width="23.18" height="16.30" fill="#f93038"/>
<rect x="198.08" y="609.80" width="23.18" height="16.30" fill="#3c5ae7"/>
<rect x="220.67" y="609.80" width="23.18" height="16.30" fill="#fb4a3e"/>
<rect x="243.25" y="609.80" width="23.18" height="16.30" fill="#8eb6f8"/>
<rect x="265.83" y="609.80" width="23.18" height="16.30" fill="#4262e8"/>
<rect x="288.42" y="609.80" width="22.58" height="16.30" fill="#fa3c3a"/>
<rect x="40.00" y="625.50" width="23.18" height="16.30" fill="#f93038"/>
<rect x="62.58" y="625.50" width="45.77" height="16.30" fill="#3c5ae7"/>
<rect x="107.75" y="625.50" width="23.18" height="16.30" fill="#f82832"/>
<rect x="130.33" y="625.50" width="23.18" height="16.30" fill="#3352e8"/>
<rect x="152.92" y="625.50" width="45.77" height="16.30" fill="#8eb6f8"/>
<rect x="198.08" y="625.50" width="23.18" height="16.30" fill="#3352e8"/>
<rect x="220.67" y="625.50" width="23.18" height="16.30" fill="#f93038"/>
<rect x="243.25" y="625.50" width="23.18" height="16.30" fill="#fa3c3a"/>
<rect x="265.83" y="625.50" width="23.18" height="16.30" fill="#3352e8"/>
<rect x="288.42" y="625.50" width="22.58" height="16.30" fill="#f82832"/>
<rect x="40.00" y="641.20" width="23.18" height="16.30" fill="#f82832"/>
<rect x="62.58" y="641.20" width="23.18" height="16.30" fill="#3c5ae7"/>
<rect x="85.17" y="641.20" width="23.18" height="16.30" fill="#8eb6f8"/>
<rect x="107.75" y="641.20" width="23.18" height="16.30" fill="#fa3c3a"/>
<rect x="130.33" y="641.20" width="45.77" height="16.30" fill="#3c5ae7"/>
<rect x="175.50" y="641.20" width="23.18" height="16.30" fill="#f93038"/>
<rect x="198.08" y="641.20" width="23.18" height="16.30" fill="#3c5ae7"/>
<rect x="220.67" y="641.20" width="23.18" height="16.30" fill="#fb4a3e"/>
<rect x="243.25" y="641.20" width="23.18" height="16.30" fill="#8eb6f8"/>
<rect x="265.83" y="641.20" width="23.18" height="16.30" fill="#3c5ae7"/>
<rect x="288.42" y="641.20" width="22.58" height="16.30" fill="#f82832"/>
<rect x="40.00" y="656.90" width="23.18" height="15.70" fill="#f93038"/>
<rect x="62.58" y="656.90" width="45.77" height="15.70" fill="#3c5ae7"/>
<rect x="107.75" y="656.90" width="23.18" height="15.70" fill="#f82832"/>
<rect x="130.33" y="656.90" width="23.18" height="15.70" fill="#3352e8"/>
<rect x="152.92" y="656.90" width="45.77" height="15.70" fill="#8eb6f8"/>
<rect x="198.08" y="656.90" width="23.18" height="15.70" fill="#3352e8"/>
<rect x="220.67" y="656.90" width="45.77" height="15.70" fill="#f93038"/>
<rect x="265.83" y="656.90" width="23.18" height="15.70" fill="#3c5ae7"/>
<rect x="288.42" y="656.90" width="22.58" height="15.70" fill="#f82832"/>
</g>
<rect x="40.00" y="468.50" width="271.00" height="204.10" fill="none" stroke="#15152a" stroke-width="0.8"/>
<line x1="40.0" y1="515.60" x2="311.0" y2="515.60" stroke="#000" stroke-width="0.85"/>
<text class="row" x="36.7" y="480.0">LT3</text>
<text class="row" x="36.7" y="495.7">LT2</text>
<text class="row" x="36.7" y="511.4">LT1</text>
<text class="row" x="36.7" y="527.1">LC10</text>
<text class="row" x="36.7" y="542.8">LC9</text>
<text class="row" x="36.7" y="558.5">LC8</text>
<text class="row" x="36.7" y="574.1">LC7</text>
<text class="row" x="36.7" y="589.9">LC6</text>
<text class="row" x="36.7" y="605.6">LC5</text>
<text class="row" x="36.7" y="621.2">LC4</text>
<text class="row" x="36.7" y="637.0">LC3</text>
<text class="row" x="36.7" y="652.6">LC2</text>
<text class="row" x="36.7" y="668.4">LC1</text>
<text class="tick" text-anchor="middle" x="51.3" y="688">1</text>
<text class="tick" text-anchor="middle" x="73.9" y="688">2</text>
<text class="tick" text-anchor="middle" x="96.5" y="688">3</text>
<text class="tick" text-anchor="middle" x="119.0" y="688">4</text>
<text class="tick" text-anchor="middle" x="141.6" y="688">5</text>
<text class="tick" text-anchor="middle" x="164.2" y="688">6</text>
<text class="tick" text-anchor="middle" x="186.8" y="688">7</text>
<text class="tick" text-anchor="middle" x="209.4" y="688">8</text>
<text class="tick" text-anchor="middle" x="232.0" y="688">9</text>
<text class="tick" text-anchor="middle" x="254.5" y="688">10</text>
<text class="tick" text-anchor="middle" x="277.1" y="688">11</text>
<text class="tick" text-anchor="middle" x="299.7" y="688">12</text>
<text class="ann" x="259.2" y="480.6" textLength="47.4" lengthAdjust="spacingAndGlyphs">Full Trans-</text>
<text class="ann" x="268.6" y="528.2" textLength="37.4" lengthAdjust="spacingAndGlyphs">Full Cis-</text>
<rect x="336.7" y="468.80" width="13.7" height="204.00" fill="url(#cb1)" stroke="#333" stroke-width="1"/>
<rect x="353.6" y="468.80" width="13.5" height="204.00" fill="url(#cb2)" stroke="#333" stroke-width="1"/>
<text class="tick" text-anchor="end" x="333.3" y="472.1">3.5</text>
<path d="M336.7 509.60h2.6M350.4 509.60h-2.6" stroke="#222" stroke-width="0.9"/>
<text class="tick" text-anchor="end" x="333.3" y="512.9">3</text>
<path d="M336.7 550.40h2.6M350.4 550.40h-2.6" stroke="#222" stroke-width="0.9"/>
<text class="tick" text-anchor="end" x="333.3" y="553.7">2.5</text>
<path d="M336.7 591.20h2.6M350.4 591.20h-2.6" stroke="#222" stroke-width="0.9"/>
<text class="tick" text-anchor="end" x="333.3" y="594.5">2</text>
<path d="M336.7 632.00h2.6M350.4 632.00h-2.6" stroke="#222" stroke-width="0.9"/>
<text class="tick" text-anchor="end" x="333.3" y="635.3">1.5</text>
<text class="tick" text-anchor="end" x="333.3" y="676.1">1</text>
<text class="tick" x="371.0" y="472.1">6</text>
<path d="M353.6 496.00h2.6M367.1 496.00h-2.6" stroke="#222" stroke-width="0.9"/>
<text class="tick" x="371.0" y="499.3">5.8</text>
<path d="M353.6 523.20h2.6M367.1 523.20h-2.6" stroke="#222" stroke-width="0.9"/>
<text class="tick" x="371.0" y="526.5">5.6</text>
<path d="M353.6 550.40h2.6M367.1 550.40h-2.6" stroke="#222" stroke-width="0.9"/>
<text class="tick" x="371.0" y="553.7">5.4</text>
<path d="M353.6 577.60h2.6M367.1 577.60h-2.6" stroke="#222" stroke-width="0.9"/>
<text class="tick" x="371.0" y="580.9">5.2</text>
<path d="M353.6 604.80h2.6M367.1 604.80h-2.6" stroke="#222" stroke-width="0.9"/>
<text class="tick" x="371.0" y="608.1">5</text>
<path d="M353.6 632.00h2.6M367.1 632.00h-2.6" stroke="#222" stroke-width="0.9"/>
<text class="tick" x="371.0" y="635.3">4.8</text>
<path d="M353.6 659.20h2.6M367.1 659.20h-2.6" stroke="#222" stroke-width="0.9"/>
<text class="tick" x="371.0" y="662.5">4.6</text>
</g>
</svg></body></html>
